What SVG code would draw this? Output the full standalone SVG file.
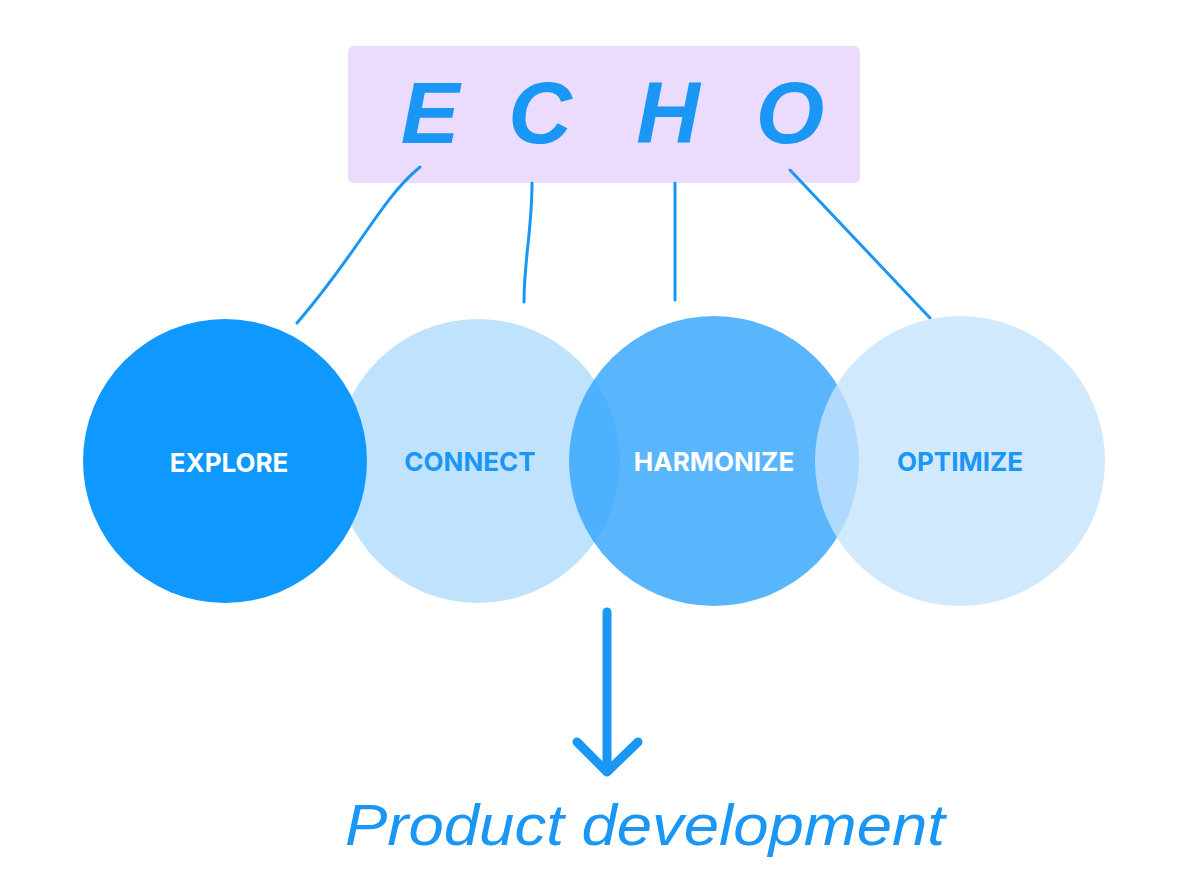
<svg xmlns="http://www.w3.org/2000/svg" width="1200" height="883" viewBox="0 0 1200 883">
<style>
.lbl{font-family:Inter,"Liberation Sans",sans-serif;font-weight:700;font-size:26px;text-anchor:middle}
.hand{font-family:"Liberation Sans",sans-serif;font-style:italic;fill:#1a96f5}
.ln{fill:none;stroke:#1a96f5;stroke-width:3;stroke-linecap:round}
</style>
<rect width="1200" height="883" fill="#fff"/>
<g id="echo">
<rect x="348" y="46" width="512" height="137" rx="6" fill="#ebdcfd"/>
<text class="hand" x="430" y="143" font-size="88" font-weight="700" text-anchor="middle">E</text>
<text class="hand" x="540" y="143" font-size="88" font-weight="700" text-anchor="middle">C</text>
<text class="hand" x="668" y="143" font-size="88" font-weight="700" text-anchor="middle">H</text>
<text class="hand" x="790" y="143" font-size="88" font-weight="700" text-anchor="middle">O</text>
</g>
<g id="connectors">
<path class="ln" d="M420 167 C380 200 360 250 297 323"/>
<path class="ln" d="M532 183 C532 230 524 260 524 302"/>
<path class="ln" d="M675 183 L675 300"/>
<path class="ln" d="M790 170 L930 318"/>
<path d="M607 612 L607 770 M577 742 L607 772 L638 742" fill="none" stroke="#1a96f5" stroke-width="9" stroke-linecap="round" stroke-linejoin="round"/>
</g>
<g id="connect"><circle cx="478" cy="461" r="142" fill="#c0e3fd"/><text class="lbl" x="470" y="471" fill="#1a96f5">CONNECT</text></g>
<g id="explore"><circle cx="225" cy="461" r="142" fill="#0f99fe"/><text class="lbl" x="229" y="472" fill="#fff">EXPLORE</text></g>
<g id="harmonize"><circle cx="714" cy="461" r="145" fill="#2fa4fd" fill-opacity="0.8"/><text class="lbl" x="714" y="471" fill="#fff">HARMONIZE</text></g>
<g id="optimize"><circle cx="960" cy="461" r="145" fill="#c4e4fd" fill-opacity="0.8"/><text class="lbl" x="960" y="471" fill="#1a96f5">OPTIMIZE</text></g>
<g id="product"><text class="hand" x="345" y="845" font-size="58" textLength="600" lengthAdjust="spacingAndGlyphs">Product development</text></g>
</svg>
